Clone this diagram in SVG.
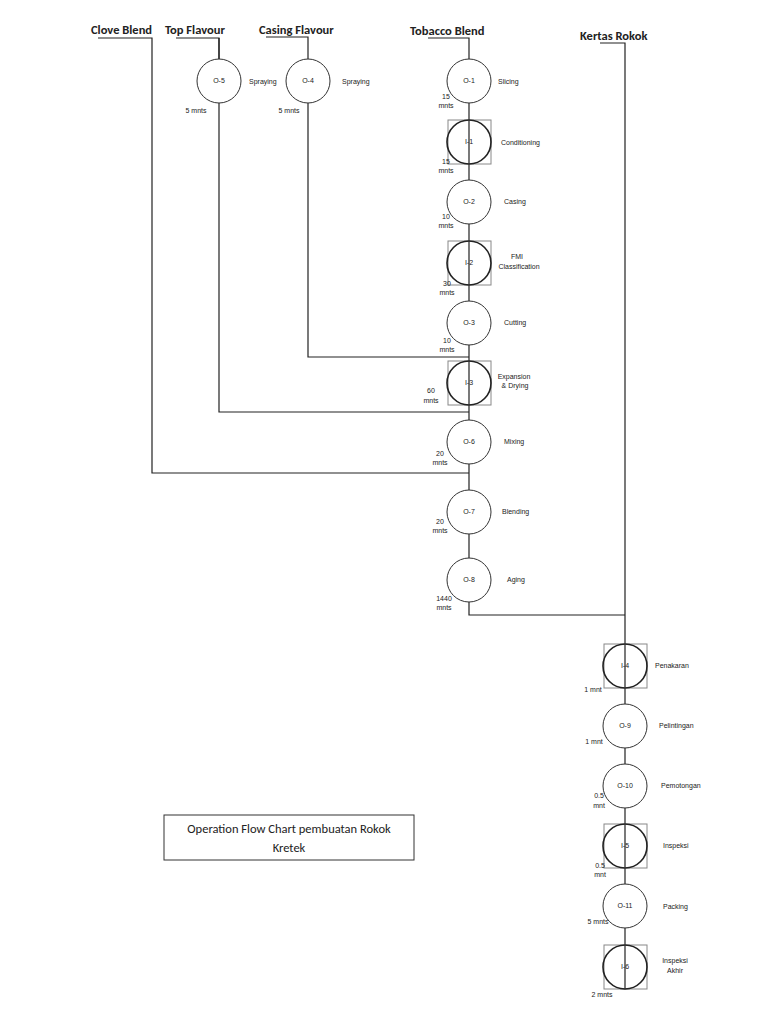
<svg xmlns="http://www.w3.org/2000/svg" width="768" height="1024" viewBox="0 0 768 1024">
<style>
text{font-family:"Liberation Sans",Arial,sans-serif;fill:#222}
.h{font-size:12.5px;font-weight:bold;font-family:Carlito,"Liberation Sans",sans-serif}
.s{font-size:7px;text-anchor:middle}
.l{font-size:7px}
.c{fill:#fff;stroke:#333;stroke-width:1}
.i{fill:none;stroke:#222;stroke-width:1.6}
.q{fill:none;stroke:#888;stroke-width:1}
.ln{fill:none;stroke:#222;stroke-width:1.2}
</style>
<rect width="768" height="1024" fill="#fff"/>
<g id="connectors">
<polyline class="ln" points="98,38 152,38 152,473 469,473"/>
<polyline class="ln" points="176,38 219,38 219,412 469,412"/>
<polyline class="ln" points="266,37 308,37 308,357 469,357"/>
<polyline class="ln" points="428,38 469,38 469,602"/>
<polyline class="ln" points="469,602 469,615 625,615"/>
<polyline class="ln" points="600,43 625,43 625,989"/>
<line class="ln" x1="219" y1="38" x2="219" y2="59"/>
</g>
<g id="headers">
<text class="h" x="91" y="34">Clove Blend</text>
<text class="h" x="165" y="34">Top Flavour</text>
<text class="h" x="259" y="34">Casing Flavour</text>
<text class="h" x="410" y="35">Tobacco Blend</text>
<text class="h" x="580" y="40">Kertas Rokok</text>
</g>
<g id="O-5"><circle class="c" cx="219" cy="81" r="22"/><text class="s" x="219" y="83">O-5</text><text class="l" x="249" y="84">Spraying</text><text class="s" x="196" y="113">5 mnts</text></g>
<g id="O-4"><circle class="c" cx="308" cy="81" r="22"/><text class="s" x="308" y="83">O-4</text><text class="l" x="342" y="84">Spraying</text><text class="s" x="289" y="113">5 mnts</text></g>
<g id="O-1"><circle class="c" cx="469" cy="81" r="22"/><text class="s" x="469" y="83">O-1</text><text class="l" x="498" y="84">Slicing</text><text class="s" x="446" y="99">15</text><text class="s" x="446" y="108">mnts</text></g>
<g id="I-1"><rect class="q" x="448" y="120" width="43" height="44"/><circle class="c i" cx="469" cy="142" r="22"/><text class="s" x="469" y="144">I-1</text><text class="l" x="501" y="145">Conditioning</text><text class="s" x="446" y="164">15</text><text class="s" x="446" y="173">mnts</text></g>
<g id="O-2"><circle class="c" cx="469" cy="202" r="22"/><text class="s" x="469" y="204">O-2</text><text class="l" x="504" y="204">Casing</text><text class="s" x="446" y="219">10</text><text class="s" x="446" y="228">mnts</text></g>
<g id="I-2"><rect class="q" x="448" y="241" width="43" height="44"/><circle class="c i" cx="469" cy="263" r="22"/><text class="s" x="469" y="265">I-2</text><text class="s" x="517" y="259">FMI</text><text class="s" x="519" y="269">Classification</text><text class="s" x="447" y="286">30</text><text class="s" x="447" y="295">mnts</text></g>
<g id="O-3"><circle class="c" cx="469" cy="323" r="22"/><text class="s" x="469" y="325">O-3</text><text class="l" x="504" y="325">Cutting</text><text class="s" x="447" y="343">10</text><text class="s" x="447" y="352">mnts</text></g>
<g id="I-3"><rect class="q" x="448" y="361" width="43" height="44"/><circle class="c i" cx="469" cy="383" r="22"/><text class="s" x="469" y="385">I-3</text><text class="s" x="514" y="379">Expansion</text><text class="s" x="515" y="388">&amp; Drying</text><text class="s" x="431" y="393">60</text><text class="s" x="431" y="403">mnts</text></g>
<g id="O-6"><circle class="c" cx="469" cy="442" r="22"/><text class="s" x="469" y="444">O-6</text><text class="l" x="504" y="444">Mixing</text><text class="s" x="440" y="456">20</text><text class="s" x="440" y="465">mnts</text></g>
<g id="O-7"><circle class="c" cx="469" cy="512" r="22"/><text class="s" x="469" y="514">O-7</text><text class="l" x="502" y="514">Blending</text><text class="s" x="440" y="524">20</text><text class="s" x="440" y="533">mnts</text></g>
<g id="O-8"><circle class="c" cx="469" cy="580" r="22"/><text class="s" x="469" y="582">O-8</text><text class="l" x="507" y="582">Aging</text><text class="s" x="444" y="601">1440</text><text class="s" x="444" y="610">mnts</text></g>
<g id="I-4"><rect class="q" x="604" y="644" width="43" height="44"/><circle class="c i" cx="625" cy="666" r="22"/><text class="s" x="625" y="668">I-4</text><text class="l" x="655" y="668">Penakaran</text><text class="s" x="593" y="692">1 mnt</text></g>
<g id="O-9"><circle class="c" cx="625" cy="726" r="22"/><text class="s" x="625" y="728">O-9</text><text class="l" x="659" y="728">Pelintingan</text><text class="s" x="594" y="744">1 mnt</text></g>
<g id="O-10"><circle class="c" cx="625" cy="786" r="22"/><text class="s" x="625" y="788">O-10</text><text class="l" x="661" y="788">Pemotongan</text><text class="s" x="599" y="798">0.5</text><text class="s" x="599" y="808">mnt</text></g>
<g id="I-5"><rect class="q" x="604" y="824" width="43" height="44"/><circle class="c i" cx="625" cy="846" r="22"/><text class="s" x="625" y="848">I-5</text><text class="l" x="663" y="848">Inspeksi</text><text class="s" x="600" y="868">0.5</text><text class="s" x="600" y="877">mnt</text></g>
<g id="O-11"><circle class="c" cx="625" cy="906" r="22"/><text class="s" x="625" y="908">O-11</text><text class="l" x="663" y="909">Packing</text><text class="s" x="598" y="924">5 mnts</text></g>
<g id="I-6"><rect class="q" x="604" y="945" width="43" height="44"/><circle class="c i" cx="625" cy="967" r="22"/><text class="s" x="625" y="969">I-6</text><text class="s" x="675" y="963">Inspeksi</text><text class="s" x="675" y="973">Akhir</text><text class="s" x="602" y="997">2 mnts</text></g>
<g id="title"><rect x="164" y="815" width="250" height="45" fill="#fff" stroke="#333" stroke-width="1"/><text x="289" y="833" text-anchor="middle" style="font-size:12.5px;font-family:Carlito,'Liberation Sans',sans-serif">Operation Flow Chart pembuatan Rokok</text><text x="289" y="852" text-anchor="middle" style="font-size:12.5px;font-family:Carlito,'Liberation Sans',sans-serif">Kretek</text></g>
</svg>
